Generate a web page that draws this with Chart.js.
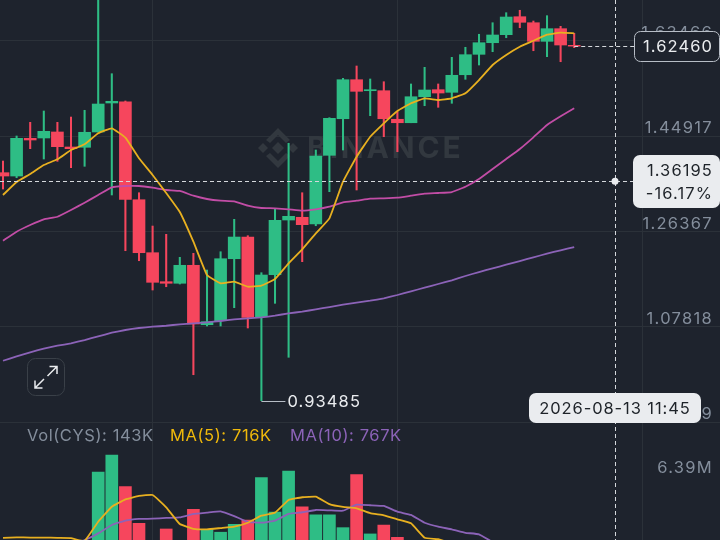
<!DOCTYPE html>
<html lang="en">
<head>
  <meta charset="UTF-8">
  <title>CYS candles</title>
  <script src="https://cdn.jsdelivr.net/npm/chart.js"></script>
  <style>
    html, body { margin: 0; padding: 0; background: #1e232d; overflow: hidden; }
    canvas { display: block; }
  </style>
</head>
<body>
  <canvas id="klineChart" width="720" height="540"></canvas>

  <script>
    // candles, oldest first
    const opens = [1.3784, 1.3719, 1.4453, 1.4459, 1.4576, 1.4284, 1.4278, 1.4576, 1.5140, 1.5165, 1.3258, 1.2227, 1.1663, 1.1632, 1.1982, 1.0826, 1.0904, 1.2110, 1.2532, 1.0982, 1.1799, 1.2863, 1.2916, 1.2785, 1.4122, 1.4834, 1.5593, 1.5379, 1.5379, 1.4823, 1.4756, 1.5262, 1.5399, 1.5348, 1.5690, 1.6087, 1.6313, 1.6469, 1.6819, 1.6702, 1.6340, 1.6586, 1.6262];
    const highs = [1.4011, 1.4498, 1.4764, 1.4984, 1.4764, 1.4867, 1.4998, 1.7630, 1.5710, 1.5179, 1.3394, 1.2746, 1.2585, 1.2137, 1.2215, 1.1890, 1.2246, 1.2877, 1.2558, 1.1838, 1.3071, 1.4356, 1.3394, 1.4225, 1.4854, 1.5620, 1.5860, 1.5607, 1.5554, 1.4971, 1.5510, 1.5834, 1.5510, 1.6029, 1.6224, 1.6477, 1.6702, 1.6897, 1.6944, 1.6735, 1.6839, 1.6632, 1.6496];
    const lows = [1.3466, 1.3686, 1.4251, 1.4050, 1.4005, 1.3881, 1.3908, 1.4576, 1.3350, 1.2266, 1.2071, 1.1501, 1.1565, 1.1618, 0.9853, 1.0801, 1.0801, 1.1157, 1.0762, 0.93485, 1.1242, 1.0192, 1.2052, 1.2752, 1.3414, 1.4225, 1.3447, 1.4893, 1.4484, 1.4192, 1.4756, 1.5087, 1.5056, 1.5134, 1.5601, 1.5879, 1.6138, 1.6410, 1.6605, 1.6157, 1.6041, 1.5943, 1.6216];
    const closes = [1.3719, 1.4453, 1.4420, 1.4589, 1.4290, 1.4251, 1.4570, 1.5120, 1.5173, 1.3266, 1.2227, 1.1651, 1.1632, 1.1982, 1.0840, 1.0884, 1.2110, 1.2532, 1.0970, 1.1793, 1.2857, 1.2935, 1.2772, 1.4109, 1.4842, 1.5593, 1.5367, 1.5399, 1.4834, 1.4756, 1.5262, 1.5393, 1.5334, 1.5679, 1.6080, 1.6313, 1.6463, 1.6813, 1.6710, 1.6340, 1.6586, 1.6268, 1.62460];

    // price moving averages
    const maFast = [1.3350, 1.3603, 1.3758, 1.3933, 1.4044, 1.4225, 1.4336, 1.4550, 1.4648, 1.4465, 1.4064, 1.3739, 1.3389, 1.3019, 1.2441, 1.1793, 1.1632, 1.1663, 1.1565, 1.1585, 1.1715, 1.2021, 1.2293, 1.2604, 1.2896, 1.3608, 1.4095, 1.4484, 1.4745, 1.4984, 1.5134, 1.5231, 1.5198, 1.5231, 1.5329, 1.5587, 1.5879, 1.6074, 1.6235, 1.6352, 1.6469, 1.6508, 1.6496];
    const maMid = [1.2460, 1.2636, 1.2766, 1.2877, 1.2927, 1.3058, 1.3200, 1.3350, 1.3499, 1.3525, 1.3525, 1.3492, 1.3447, 1.3428, 1.3336, 1.3272, 1.3239, 1.3227, 1.3142, 1.3097, 1.3091, 1.3071, 1.3044, 1.3071, 1.3122, 1.3208, 1.3239, 1.3278, 1.3285, 1.3297, 1.3336, 1.3375, 1.3389, 1.3408, 1.3511, 1.3661, 1.3856, 1.4050, 1.4245, 1.4472, 1.4712, 1.4881, 1.5037];
    const maSlow = [1.0125, 1.0211, 1.0289, 1.0359, 1.0417, 1.0464, 1.0528, 1.0600, 1.0670, 1.0723, 1.0762, 1.0787, 1.0806, 1.0834, 1.0853, 1.0873, 1.0898, 1.0931, 1.0950, 1.0970, 1.1001, 1.1048, 1.1079, 1.1126, 1.1170, 1.1215, 1.1254, 1.1293, 1.1340, 1.1404, 1.1476, 1.1546, 1.1618, 1.1690, 1.1774, 1.1851, 1.1923, 1.1993, 1.2065, 1.2137, 1.2208, 1.2274, 1.2338];

    // volume in millions
    const volumes = [2.3, 2.2, 2.0, 1.9, 2.1, 2.2, 2.4, 6.18, 7.07, 5.41, 3.48, 2.3, 3.18, 2.1, 4.22, 3.16, 3.01, 3.43, 3.65, 5.88, 4.07, 6.23, 4.35, 3.92, 3.92, 3.25, 6.04, 2.92, 3.39, 2.74, 2.3, 2.0, 1.6, 1.5, 1.7, 1.4, 1.2, 1.0, 0.9, 0.8, 0.7, 0.6, 0.143];
    const volMa5 = [2.71, 2.74, 2.73, 2.73, 2.71, 2.70, 2.55, 3.56, 4.35, 4.74, 4.92, 4.97, 4.32, 3.44, 3.19, 3.16, 3.23, 3.30, 3.51, 3.88, 4.04, 4.71, 4.85, 4.88, 4.49, 4.34, 4.27, 4.01, 3.90, 3.69, 3.48, 2.72, 2.64, 2.4, 2.1, 1.8, 1.5, 1.2, 1.0, 0.9, 0.8, 0.75, 0.716];
    const volMa10 = [2.2, 2.2, 2.2, 2.2, 2.3, 2.4, 2.6, 2.95, 3.39, 3.62, 3.71, 3.72, 3.76, 3.79, 3.97, 4.04, 4.11, 3.86, 3.56, 3.51, 3.62, 3.97, 4.06, 4.18, 4.16, 4.14, 4.46, 4.43, 4.39, 4.09, 3.92, 3.51, 3.30, 3.16, 2.98, 2.90, 2.49, 2.2, 1.9, 1.6, 1.3, 1.0, 0.767];

    // axis ticks
    const priceTicks = [1.63466, 1.44917, 1.26367, 1.07818, 0.89269];
    const volumeTicks = [6.39];
    const timeGrid = [11, 29, 47];

    // crosshair and last price
    const lastPrice = 1.62460;
    const crossPrice = 1.36195;
    const crossPct = '-16.17%';
    const crossIndex = 45;
    const crossTime = '2026-08-13 11:45';

    const UP = '#2ebd85';
    const DOWN = '#f6465d';
    const BG = '#1e232d';
    const FONT = 'Inter, "Noto Sans", sans-serif';

    const isUp = closes.map((c, i) => c >= opens[i]);
    const candleColors = isUp.map(u => u ? UP : DOWN);

    function roundBox(ctx, x, y, w, h, r, fill, stroke) {
      ctx.beginPath();
      ctx.roundRect(x, y, w, h, r);
      if (fill) { ctx.fillStyle = fill; ctx.fill(); }
      if (stroke) { ctx.strokeStyle = stroke; ctx.lineWidth = 1; ctx.stroke(); }
    }

    function poly(ctx, pts) {
      ctx.beginPath();
      pts.forEach((p, i) => i ? ctx.lineTo(p[0], p[1]) : ctx.moveTo(p[0], p[1]));
      ctx.closePath();
      ctx.fill();
    }

    // axes sit on top of the plot, they must not take any room from it
    function noRoom(scale) {
      scale.width = 0;
      scale.paddingTop = 0;
      scale.paddingBottom = 0;
    }

    // faint logo behind the candles
    const watermark = {
      id: 'watermark',
      beforeDraw(chart) {
        // canvas resize wipes this, so set it per draw; the axis labels pick it up
        chart.ctx.letterSpacing = '1.3px';
      },
      beforeDatasetsDraw(chart) {
        const ctx = chart.ctx;
        const cx = 278, cy = 148;
        ctx.save();
        ctx.fillStyle = '#32383f';
        poly(ctx, [[cx, cy - 6], [cx + 6, cy], [cx, cy + 6], [cx - 6, cy]]);
        poly(ctx, [[cx - 15, cy - 5], [cx - 10, cy], [cx - 15, cy + 5], [cx - 20, cy]]);
        poly(ctx, [[cx + 15, cy - 5], [cx + 20, cy], [cx + 15, cy + 5], [cx + 10, cy]]);
        poly(ctx, [[cx, cy - 20], [cx + 12, cy - 8], [cx + 8, cy - 5], [cx, cy - 13], [cx - 8, cy - 5], [cx - 12, cy - 8]]);
        poly(ctx, [[cx, cy + 20], [cx + 12, cy + 8], [cx + 8, cy + 5], [cx, cy + 13], [cx - 8, cy + 5], [cx - 12, cy + 8]]);
        ctx.font = '700 30px ' + FONT;
        ctx.textAlign = 'left';
        ctx.textBaseline = 'middle';
        ctx.letterSpacing = '2.8px';
        ctx.fillText('BINANCE', 307, 149);
        ctx.restore();
      }
    };

    const overlay = {
      id: 'overlay',
      afterDraw(chart) {
        const ctx = chart.ctx;
        const xs = chart.scales.x;
        const ys = chart.scales.y;
        const crossX = xs.getPixelForValue(crossIndex);
        const crossY = ys.getPixelForValue(crossPrice);
        const lastX = xs.getPixelForValue(closes.length - 1);
        const lastY = ys.getPixelForValue(lastPrice);
        ctx.save();

        // dashed guides
        ctx.strokeStyle = '#d5d8dc';
        ctx.lineWidth = 1;
        ctx.setLineDash([4, 3]);
        ctx.beginPath();
        ctx.moveTo(0, Math.round(crossY) + 0.5);
        ctx.lineTo(634, Math.round(crossY) + 0.5);
        ctx.moveTo(Math.round(crossX) + 0.5, 0);
        ctx.lineTo(Math.round(crossX) + 0.5, 540);
        ctx.moveTo(lastX, Math.round(lastY) + 0.5);
        ctx.lineTo(634, Math.round(lastY) + 0.5);
        ctx.stroke();
        ctx.setLineDash([]);

        ctx.beginPath();
        ctx.arc(crossX, crossY, 3.5, 0, Math.PI * 2);
        ctx.fillStyle = '#eaecef';
        ctx.fill();

        // lowest price marker
        const minIdx = lows.indexOf(Math.min(...lows));
        const minX = xs.getPixelForValue(minIdx);
        const minY = ys.getPixelForValue(lows[minIdx]);
        ctx.strokeStyle = '#b7bdc6';
        ctx.beginPath();
        ctx.moveTo(minX, Math.round(minY) + 0.5);
        ctx.lineTo(minX + 24, Math.round(minY) + 0.5);
        ctx.stroke();

        ctx.font = '16.5px ' + FONT;
        ctx.textBaseline = 'middle';
        ctx.textAlign = 'left';
        ctx.fillStyle = '#eaecef';
        ctx.letterSpacing = '1.1px';
        ctx.fillText(lows[minIdx].toFixed(5), minX + 26, minY + 1);

        // last price tag
        roundBox(ctx, 634.5, 31.5, 85, 30, 6, BG, '#b7bdc6');
        ctx.fillStyle = '#eaecef';
        ctx.textAlign = 'right';
        ctx.fillText(lastPrice.toFixed(5), 713, 47);

        // crosshair price tag
        roundBox(ctx, 633, 155, 87, 53, 7, '#eaecef');
        ctx.fillStyle = '#1e2329';
        ctx.fillText(crossPrice.toFixed(5), 713, 171);
        ctx.fillText(crossPct, 713, 194);

        // crosshair time tag
        roundBox(ctx, 529, 393, 172, 30, 7, '#eaecef');
        ctx.fillStyle = '#1e2329';
        ctx.textAlign = 'center';
        ctx.letterSpacing = '0.9px';
        ctx.fillText(crossTime, 615, 409);

        // volume legend
        ctx.textAlign = 'left';
        ctx.letterSpacing = '0.6px';
        ctx.fillStyle = '#848e9c';
        ctx.fillText('Vol(CYS): 143K', 27, 436);
        ctx.fillStyle = '#f0b90b';
        ctx.fillText('MA(5): 716K', 170, 436);
        ctx.fillStyle = '#8c63b8';
        ctx.fillText('MA(10): 767K', 290, 436);

        // expand button
        roundBox(ctx, 27.5, 358.5, 37, 37, 8, null, '#3a4048');
        ctx.strokeStyle = '#eaecef';
        ctx.lineWidth = 1.5;
        ctx.beginPath();
        ctx.moveTo(47.5, 376); ctx.lineTo(57, 366.5);
        ctx.moveTo(49.5, 366.5); ctx.lineTo(57, 366.5); ctx.lineTo(57, 374);
        ctx.moveTo(44, 379); ctx.lineTo(35, 388);
        ctx.moveTo(35, 380.5); ctx.lineTo(35, 388); ctx.lineTo(42.5, 388);
        ctx.stroke();
        ctx.restore();
      }
    };

    function bars(yValues, width, axis, order) {
      return {
        type: 'bar',
        data: yValues.map((y, i) => ({ x: i, y })),
        backgroundColor: candleColors,
        barThickness: width,
        grouped: false,
        borderSkipped: false,
        yAxisID: axis,
        order
      };
    }

    function line(values, color, axis) {
      return {
        type: 'line',
        data: values.map((y, i) => ({ x: i, y })),
        borderColor: color,
        borderWidth: 1.8,
        pointRadius: 0,
        tension: 0.1,
        yAxisID: axis,
        order: 1
      };
    }

    new Chart(document.getElementById('klineChart'), {
      data: {
        datasets: [
          bars(lows.map((l, i) => [l, highs[i]]), 1.4, 'y', 3),
          bars(opens.map((o, i) => [o, closes[i]]), 12, 'y', 2),
          bars(volumes, 12, 'yVol', 3),
          line(maFast, '#e8b020', 'y'),
          line(maMid, '#c24da6', 'y'),
          line(maSlow, '#8c63b8', 'y'),
          line(volMa5, '#e8b020', 'yVol'),
          line(volMa10, '#8c63b8', 'yVol')
        ]
      },
      options: {
        responsive: false,
        animation: false,
        events: [],
        layout: { padding: 0 },
        plugins: { legend: { display: false }, tooltip: { enabled: false } },
        scales: {
          x: {
            type: 'linear',
            offset: false,
            min: -0.2206,
            max: 52.72,
            afterBuildTicks(axis) { axis.ticks = timeGrid.map(value => ({ value })); },
            grid: { color: '#2b3139', drawTicks: false, offset: false },
            border: { display: false },
            ticks: { display: false }
          },
          y: {
            type: 'linear',
            position: 'right',
            min: 0.6637,
            max: 1.7144,
            afterBuildTicks(axis) { axis.ticks = priceTicks.map(value => ({ value })); },
            afterFit: noRoom,
            grid: { color: '#2b3139', drawTicks: false },
            border: { display: false },
            ticks: {
              mirror: true,
              padding: -7,
              labelOffset: -8,
              color: '#848e9c',
              font: { family: FONT, size: 16.5 },
              callback: v => v.toFixed(5)
            }
          },
          yVol: {
            type: 'linear',
            position: 'right',
            min: 2.6,
            max: 31.02,
            afterBuildTicks(axis) { axis.ticks = volumeTicks.map(value => ({ value })); },
            afterFit: noRoom,
            grid: { display: false, drawTicks: false },
            border: { display: false },
            ticks: {
              mirror: true,
              padding: -7,
              color: '#848e9c',
              font: { family: FONT, size: 16.5 },
              callback: v => v.toFixed(2) + 'M'
            }
          }
        }
      },
      plugins: [watermark, overlay]
    });
  </script>
</body>
</html>
